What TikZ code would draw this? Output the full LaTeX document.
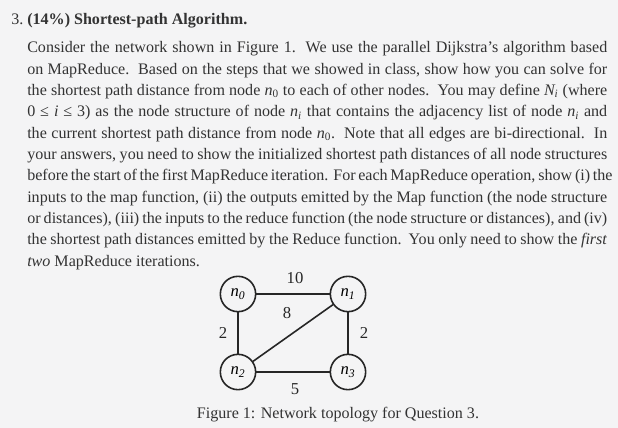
\documentclass[tikz,border=0pt]{standalone}
\usepackage{fontspec}
\setmainfont{Liberation Serif}
\begin{document}
\begin{tikzpicture}[x=0.75pt,y=-0.75pt,
  txt/.style={anchor=base west,inner sep=0pt,font=\fontsize{12.05}{15}\selectfont,text=black!80},
  vtx/.style={circle,draw=black!85,line width=1.2pt,minimum size=26.5pt,inner sep=0pt,font=\fontsize{12.5}{15}\selectfont\itshape},
  edge/.style={draw=black!85,line width=1.2pt},
  lbl/.style={inner sep=0pt,font=\fontsize{12.5}{15}\selectfont,text=black!85}]
\fill[blue!4!gray!8] (0,0) rectangle (618,428);
\useasboundingbox (0,0) rectangle (618,428);
\newcommand{\txline}[2]{\node[txt] (l#1) at (27,{53+(#1-1)*21.3}) {\makebox[435pt][s]{#2}};}
\node[txt] (num) at (11,25) {3.};
\node[txt] (title) at (27,25) {\textbf{(14\%) Shortest-path Algorithm.}};
\txline{1}{Consider the network shown in Figure 1.\ \ We use the parallel Dijkstra's algorithm based}
\txline{2}{on MapReduce.\ \ Based on the steps that we showed in class, show how you can solve for}
\txline{3}{the shortest path distance from node \textit{n}\textsubscript{0} to each of other nodes.\ \ You may define \textit{N\textsubscript{i}} (where}
\txline{4}{0 ≤ \textit{i} ≤ 3) as the node structure of node \textit{n\textsubscript{i}} that contains the adjacency list of node \textit{n\textsubscript{i}} and}
\txline{5}{the current shortest path distance from node \textit{n}\textsubscript{0}.\ \ Note that all edges are bi-directional.\ \ In}
\txline{6}{your answers, you need to show the initialized shortest path distances of all node structures}
\txline{7}{before the start of the first MapReduce iteration. For each MapReduce operation, show (i) the}
\txline{8}{inputs to the map function, (ii) the outputs emitted by the Map function (the node structure}
\txline{9}{or distances), (iii) the inputs to the reduce function (the node structure or distances), and (iv)}
\txline{10}{the shortest path distances emitted by the Reduce function.\ \ You only need to show the \textit{first}}
\node[txt] (l11) at (27,{53+10*21.3}) {\textit{two} MapReduce iterations.};
\node[vtx] (n0) at (238,294) {n\textsubscript{0}};
\node[vtx] (n1) at (348,294) {n\textsubscript{1}};
\node[vtx] (n2) at (238,372) {n\textsubscript{2}};
\node[vtx] (n3) at (348,372) {n\textsubscript{3}};
\draw[edge] (n0) -- (n1);
\draw[edge] (n0) -- (n2);
\draw[edge] (n1) -- (n3);
\draw[edge] (n2) -- (n3);
\draw[edge] (n2) -- (n1);
\node[lbl] (w01) at (295,278) {10};
\node[lbl] (w02) at (223,333) {2};
\node[lbl] (w13) at (364,333) {2};
\node[lbl] (w12) at (287,313) {8};
\node[lbl] (w23) at (295,389) {5};
\node[txt,anchor=base] (cap) at (338,418) {Figure 1: Network topology for Question 3.};
\end{tikzpicture}
\end{document}
